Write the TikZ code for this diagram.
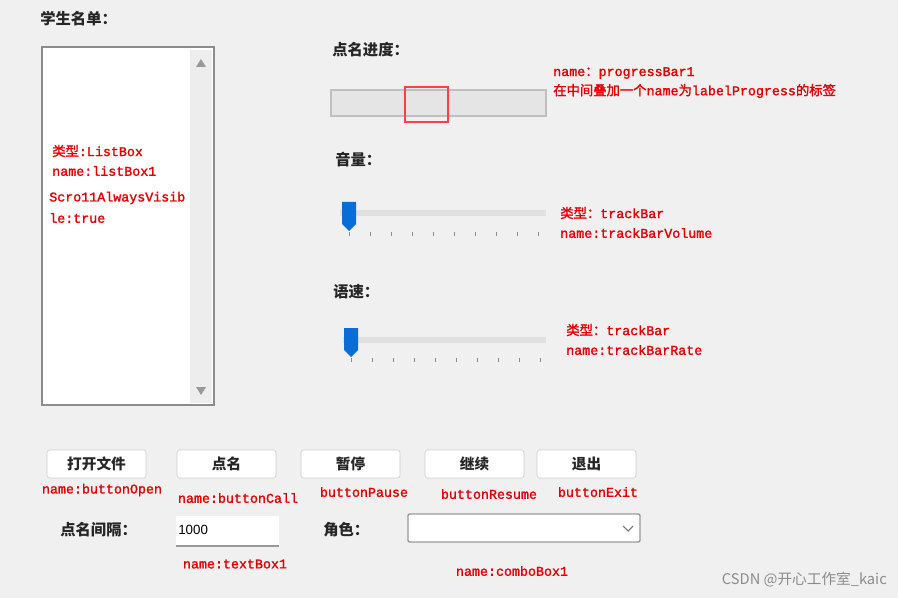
\documentclass[tikz,border=0pt]{standalone}
\usepackage{fontspec}
\setmainfont{Liberation Sans}
\newfontfamily\cjk{Noto Sans CJK SC}
\newfontfamily\rmono{Liberation Mono}[FakeBold=1.5]
\newfontfamily\rcjk{Noto Sans CJK SC}[FakeBold=1.5]
\definecolor{thumb}{HTML}{0A6CD6}
\begin{document}
\begin{tikzpicture}[x=0.75pt,y=-0.75pt,
  lab/.style={anchor=west,inner sep=0,font=\cjk\fontsize{11.5}{12}\selectfont\bfseries,text=black!85},
  red/.style={anchor=west,inner sep=0,text=red!90!black,font=\rmono\fontsize{10}{11}\selectfont},
  btn/.style={draw=black!20,fill=white,rounded corners=2pt,minimum width=74.25pt,minimum height=21pt,inner sep=0,font=\cjk\fontsize{11}{12}\selectfont\bfseries,text=black!85},
  tick/.style={draw=black!45,line width=0.6pt}]
\useasboundingbox (0,0) rectangle (898,598);
\fill[black!6] (0,0) rectangle (898,598);
% list box
\node[lab] (t1) at (40,19) {学生名单：};
\draw[black!45,fill=white,line width=1pt] (42,47) rectangle (214,405);
\fill[black!7] (190,50) rectangle (212,403);
\fill[black!40] (196,67)--(206,67)--(201,59)--cycle;
\fill[black!40] (196,387)--(206,387)--(201,395)--cycle;
\node[red] (l1) at (52,151) {{\rcjk 类型}:ListBox};
\node[red] (l2) at (52,171) {name:listBox1};
\node[red] (l3) at (49,198) {Scro11AlwaysVisib};
\node[red] (l4) at (49,218) {le:true};
% progress
\node[lab] (t2) at (332,50) {点名进度：};
\draw[black!25,fill=black!10,line width=1pt] (331,90) rectangle (546,116);
\draw[red!75,line width=0.8pt] (405,87) rectangle (448,122);
\node[red] (p1) at (553,73) {name{\rcjk ：}progressBar1};
\node[red] (p2) at (553,91) {{\rcjk 在中间叠加一个}name{\rcjk 为}labelProgress{\rcjk 的标签}};
% volume
\node[lab] (t3) at (335,160) {音量：};
\draw[black!12,line width=4pt] (340,213)--(546,213);
\fill[thumb] (342,202)--(356,202)--(356,224)--(349,231)--(342,224)--cycle;
\foreach \i in {0,...,9} \draw[tick] ({349+21*\i},232)--({349+21*\i},236);
\node[red] (v1) at (560,213) {{\rcjk 类型：}trackBar};
\node[red] (v2) at (560,233) {name:trackBarVolume};
% rate
\node[lab] (t4) at (333,292) {语速：};
\draw[black!12,line width=4pt] (343,340)--(546,340);
\fill[thumb] (344,328)--(358,328)--(358,350)--(351,357)--(344,350)--cycle;
\foreach \i in {0,...,9} \draw[tick] ({351+21*\i},358)--({351+21*\i},362);
\node[red] (r1) at (566,330) {{\rcjk 类型：}trackBar};
\node[red] (r2) at (566,350) {name:trackBarRate};
% buttons
\node[btn] (b1) at (96.5,464) {打开文件};
\node[btn] (b2) at (226.5,464) {点名};
\node[btn] (b3) at (350.5,464) {暂停};
\node[btn] (b4) at (474.5,464) {继续};
\node[btn] (b5) at (586.5,464) {退出};
\node[red,anchor=center] (n1) at (102,490) {name:buttonOpen};
\node[red,anchor=center] (n2) at (238,498) {name:buttonCall};
\node[red,anchor=center] (n3) at (364,492) {buttonPause};
\node[red,anchor=center] (n4) at (489,494) {buttonResume};
\node[red,anchor=center] (n5) at (598,492) {buttonExit};
% bottom row
\node[lab] (t5) at (60,530) {点名间隔：};
\fill[white] (176,516) rectangle (279,546);
\draw[black!40,line width=1pt] (176,546)--(279,546);
\node[anchor=west,inner sep=0,font=\fontsize{10}{11}\selectfont] (tb) at (178,530) {1000};
\node[lab] (t6) at (323,530) {角色：};
\draw[black!40,fill=white,line width=1pt,rounded corners=1pt] (408,514) rectangle (640,542);
\draw[black!55,line width=0.8pt] (623,526)--(628,531)--(633,526);
\node[red,anchor=center] (n6) at (235,564) {name:textBox1};
\node[red,anchor=center] (n7) at (512,571) {name:comboBox1};
\node[anchor=east,inner sep=0,text=black!45,font=\cjk\fontsize{11}{12}\selectfont] (wm) at (887,580) {CSDN @开心工作室\_kaic};
\end{tikzpicture}
\end{document}
